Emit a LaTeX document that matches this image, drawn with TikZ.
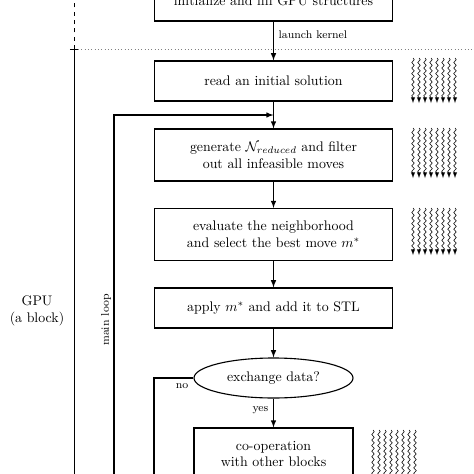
\documentclass[tikz,border=0pt]{standalone}
\usepackage{amssymb}
\usepackage{amsmath}
\usepackage{tikz}
\usetikzlibrary{shapes, decorations.pathmorphing}

\begin{document}
\begin{tikzpicture}[x=0.72pt,y=-0.72pt,
  box/.style={rectangle,draw,thick,minimum width=172pt,minimum height=28.8pt,align=center},
  flow/.style={thick,-latex},
  wave/.style={-latex,decorate,decoration={snake,amplitude=0.9pt,segment length=4pt,post length=2.5pt}}]

\useasboundingbox (0,0) rectangle (474,474);

% left border and host/device split
\coordinate (tick) at (74,49);
\draw[semithick,dashed] (tick) -- (74,-5);
\draw[semithick] (tick) -- (74,480);
\draw[semithick] (70,49) -- (78,49);
\draw[gray,dotted] (78,49) -- (474,49);
\node[align=center] (gpu) at (37,311) {GPU\\(a block)};

% flow
\node[box] (init) at (273.5,1) {initialize and fill GPU structures};
\node[box] (read) at (273.5,81) {read an initial solution};
\node[box,minimum height=37.4pt] (gen) at (273.5,155) {generate $\mathcal{N}_{reduced}$ and filter\\out all infeasible moves};
\node[box,minimum height=37.4pt] (eval) at (273.5,234.5) {evaluate the neighborhood\\and select the best move $m^*$};
\node[box] (apply) at (273.5,308) {apply $m^*$ and add it to STL};
\node[ellipse,draw,thick,inner sep=0pt,minimum width=114.5pt,minimum height=28.8pt] (xchg) at (273.5,378) {exchange data?};
\node[box,minimum width=114.5pt,minimum height=37.4pt] (coop) at (273.5,454) {co-operation\\with other blocks};

\draw[flow] (init) -- node[right,pos=0.35,font=\footnotesize] {launch kernel} (read);
\draw[flow] (read) -- (gen);
\draw[flow] (gen) -- (eval);
\draw[flow] (eval) -- (apply);
\draw[flow] (apply) -- (xchg);
\draw[flow] (xchg) -- node[left,pos=0.4,font=\footnotesize] {yes} (coop);

% main loop
\coordinate (loopin) at (273.5,115);
\coordinate (loopbot) at (114,480);
\draw[flow] (loopbot) |- (loopin);
\node[rotate=90,anchor=south,inner sep=2pt,font=\footnotesize] (mainloop) at (114,320) {main loop};
\coordinate (nobot) at (154,480);
\draw[thick] (xchg.west) node[below left,font=\footnotesize] {no} -| (nobot);

% threads
\foreach \ya/\yb in {58/103,128/178,208/255}
  \foreach \i in {0,...,7}
    \draw[wave] (413+6*\i,\ya) -- (413+6*\i,\yb);
\foreach \i in {0,...,7}
  \draw[wave] (373+6*\i,430) -- (373+6*\i,490);

\end{tikzpicture}
\end{document}
